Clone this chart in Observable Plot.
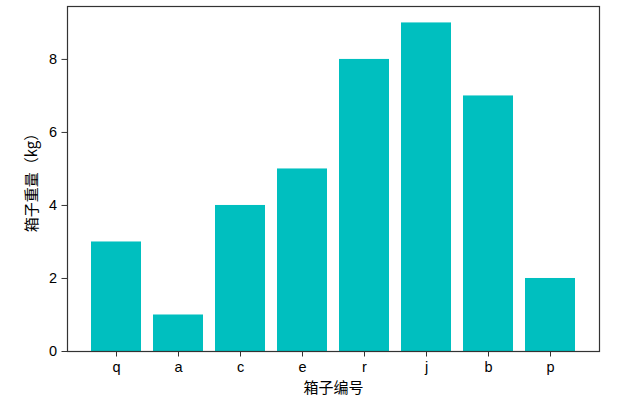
<!DOCTYPE html>
<html>
<head>
<meta charset="utf-8">
<script src="https://cdn.jsdelivr.net/npm/d3@7"></script>
<script src="https://cdn.jsdelivr.net/npm/@observablehq/plot@0.6"></script>
<style>
  html, body { margin: 0; padding: 0; background: #fff; }
  #chart svg { display: block; }
</style>
</head>
<body>
<div id="chart"></div>
<script>
const boxes = ["q", "a", "c", "e", "r", "j", "b", "p"];
const weights = [3, 1, 4, 5, 8, 9, 7, 2];
const yTicks = [0, 2, 4, 6, 8];
const xLabel = "箱子编号";
const yLabel = "箱子重量（kg）";

const data = boxes.map((b, i) => ({box: b, weight: weights[i]}));
const font = "'Liberation Sans', Arial, 'Noto Sans CJK SC', sans-serif";
const cjkFont = "'Noto Sans CJK SC', 'Liberation Sans', sans-serif";

const chart = Plot.plot({
  width: 640,
  height: 412,
  marginLeft: 67,
  marginRight: 41,
  marginTop: 6,
  marginBottom: 61,
  style: {fontFamily: font, fontSize: "14px", color: "#000", background: "#fff"},
  x: {domain: boxes, paddingInner: 0.2, paddingOuter: 0.39, label: null},
  y: {domain: [0, 9.45], label: null},
  marks: [
    Plot.barY(data, {x: "box", y: "weight", fill: "#00bfbf"}),
    Plot.axisX({ticks: boxes, tickSize: 5.5, tickPadding: 5, stroke: "#333", fontSize: 14.5, label: null}),
    Plot.axisY({ticks: yTicks, tickSize: 5.5, tickPadding: 5, stroke: "#333", fontSize: 14.5, label: null}),
    Plot.frame({stroke: "#333", strokeWidth: 1.2}),
    Plot.text([xLabel], {frameAnchor: "bottom", dy: 41, text: d => d, fontSize: 15, fontFamily: cjkFont, fill: "#000"}),
    Plot.text([yLabel], {frameAnchor: "left", dx: -35, rotate: -90, textAnchor: "middle", text: d => d, fontSize: 15, fontFamily: cjkFont, fill: "#000"})
  ]
});
document.getElementById("chart").appendChild(chart);
</script>
</body>
</html>
